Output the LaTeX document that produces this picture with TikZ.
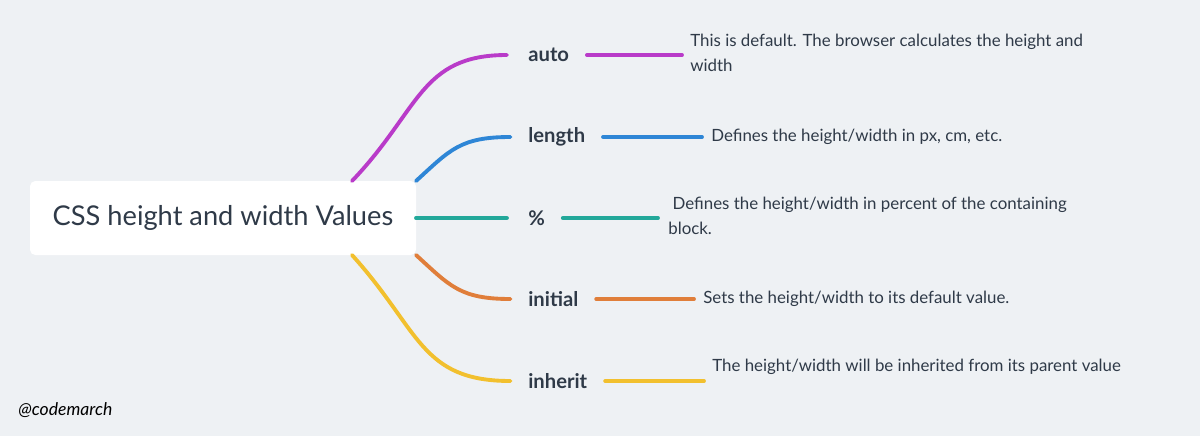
\documentclass[tikz,border=0pt]{standalone}
\usepackage{fontspec}
\setmainfont{Lato}
\usetikzlibrary{positioning}
\definecolor{bgc}{HTML}{EEF1F4}
\definecolor{cpurple}{HTML}{B93BC9}
\definecolor{cblue}{HTML}{2E86D6}
\definecolor{cteal}{HTML}{22A89A}
\definecolor{corange}{HTML}{E07E3A}
\definecolor{cyellow}{HTML}{F2C02E}
\definecolor{ctext}{HTML}{2F3A48}
\tikzset{
  value/.style={font=\bfseries\fontsize{11.5}{13}\selectfont, text=ctext, inner sep=0pt, anchor=west},
  descr/.style={font=\fontsize{9.6}{14}\selectfont, text=ctext, inner sep=0pt, anchor=west, align=left},
  branch/.style={line width=2.2pt, line cap=round}
}
\begin{document}
\begin{tikzpicture}[x=0.02cm, y=-0.02cm]
\fill[bgc] (0,0) rectangle (1200,436);
\useasboundingbox (0,0) rectangle (1200,436);

% root
\fill[white, rounded corners=3pt] (30,181) rectangle (416,255);
\node (root) at (223,218) {\fontsize{15.5}{18}\selectfont\color{ctext}CSS height and width Values};
\coordinate (rtl) at (352,181);
\coordinate (rtr) at (416,181);
\coordinate (rr) at (416,218);
\coordinate (rbr) at (416,255);
\coordinate (rbl) at (352,255);

% values
\node[value] (auto) at (528,55) {auto};
\node[value] (length) at (528,137) {length};
\node[value] (pct) at (528,218) {\%};
\node[value] (initial) at (528,299) {initial};
\node[value] (inherit) at (528,381) {inherit};

% descriptions
\node[descr, anchor=north west] (dauto) at (690,34) {This is default. The browser calculates the height and\\width};
\node[descr] (dlength) at (711,137) {Defines the height/width in px, cm, etc.};
\node[descr, anchor=north west] (dpct) at (668,197) {\ Defines the height/width in percent of the containing\\block.};
\node[descr] (dinitial) at (703,299) {Sets the height/width to its default value.};
\node[descr, anchor=north west] (dinherit) at (712,359) {The height/width will be inherited from its parent value};

% connectors
\draw[branch, cpurple] (rtl) .. controls (420,110) and (420,55) .. ([xshift=-12]auto.west);
\draw[branch, cpurple] ([xshift=10]auto.east) -- (682,55);
\draw[branch, cblue] (rtr) .. controls (450,150) and (460,137) .. ([xshift=-10]length.west);
\draw[branch, cblue] ([xshift=10]length.east) -- (702,137);
\draw[branch, cteal] (rr) -- ([xshift=-12]pct.west);
\draw[branch, cteal] ([xshift=10]pct.east) -- (658,218);
\draw[branch, corange] (rbr) .. controls (450,286) and (460,299) .. ([xshift=-10]initial.west);
\draw[branch, corange] ([xshift=10]initial.east) -- (694,299);
\draw[branch, cyellow] (rbl) .. controls (420,330) and (420,381) .. ([xshift=-10]inherit.west);
\draw[branch, cyellow] ([xshift=10]inherit.east) -- (704,381);

\node[anchor=west, inner sep=0pt] (mark) at (18,410) {\fontsize{10}{12}\selectfont\itshape @codemarch};
\end{tikzpicture}
\end{document}
